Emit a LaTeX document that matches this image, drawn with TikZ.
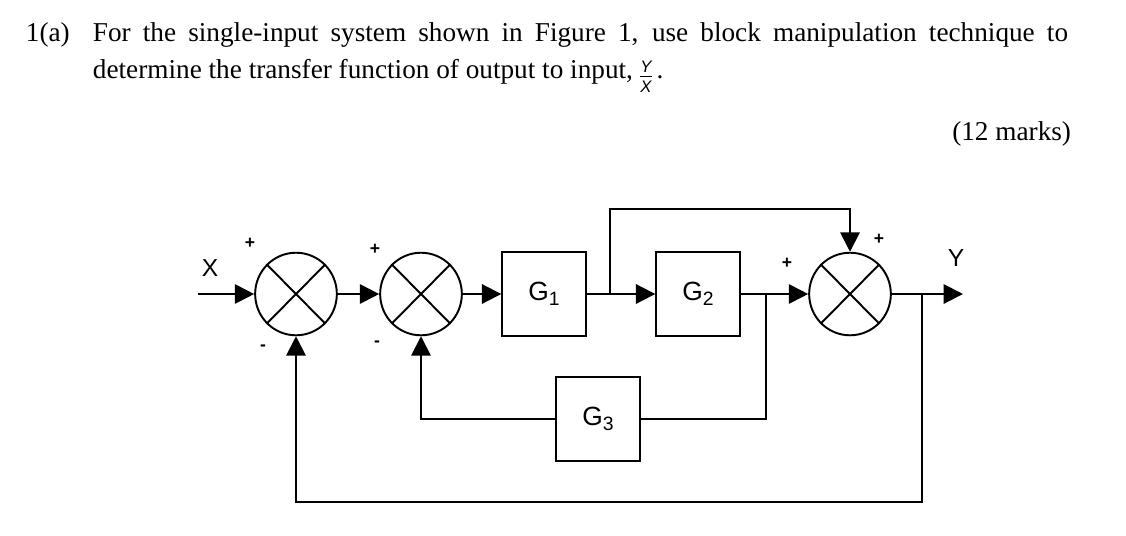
\documentclass[tikz,border=0pt]{standalone}
\usepackage{fontspec}
\setmainfont{Liberation Serif}
\setsansfont{Liberation Sans}
\usetikzlibrary{arrows.meta,shapes.geometric}
\newcommand{\sbx}[1]{\raisebox{-0.35ex}{\fontsize{11}{11}\selectfont #1}}
\begin{document}
\begin{tikzpicture}[x=0.02cm,y=-0.02cm,
  line width=1.1pt,
  sum/.style={ellipse,draw,minimum width=46.5pt,minimum height=47pt,inner sep=0pt},
  blk/.style={draw,minimum width=47.5pt,minimum height=47.5pt,font=\sffamily\fontsize{15}{15}\selectfont},
  lab/.style={font=\sffamily\fontsize{14}{14}\selectfont},
  sgn/.style={font=\sffamily\bfseries\fontsize{10}{10}\selectfont},
  arr/.style={-{Triangle[length=11pt,width=11pt]}},
  txt/.style={font=\fontsize{15.5}{18}\selectfont,inner sep=0pt}]
\useasboundingbox (0,0) rectangle (1126,535);
% text
\node[txt,anchor=base west] (n1) at (25,41) {1(a)};
\node[txt,anchor=base west] (t2) at (92,78) {determine the transfer function of output to input, \raisebox{-0.4ex}{$\vcenter{\hbox{\fontsize{9.5}{9.5}\selectfont\sffamily\itshape\shortstack{Y\\[-1pt]\rule{7pt}{0.5pt}\\[-1pt]X}}}$}\,.};
\node[txt,anchor=base west] (t1) at (92,41) {\makebox[555pt][s]{For the single-input system shown in Figure 1, use block manipulation technique to}};
\node[txt,anchor=base east] (mk) at (1072,140) {(12 marks)};
% blocks
\node[sum] (s1) at (296,294) {};
\node[sum] (s2) at (421,294) {};
\node[sum] (s3) at (850,294) {};
\foreach \s in {s1,s2,s3}{
  \draw (\s.north east) -- (\s.south west) (\s.north west) -- (\s.south east);}
\node[blk] (g1) at (544,294) {G\sbx{1}};
\node[blk] (g2) at (698,294) {G\sbx{2}};
\node[blk] (g3) at (598,419) {G\sbx{3}};
\coordinate (in) at (198,294);
\coordinate (out) at (963,294);
\coordinate (b1) at (610,294);
\coordinate (b2) at (766,294);
\coordinate (b3) at (922,294);
% connectors
\draw[arr] (in) -- (s1);
\draw[arr] (s1) -- (s2);
\draw[arr] (s2) -- (g1);
\draw[arr] (g1) -- (g2);
\draw[arr] (g2) -- (s3);
\draw[arr] (s3) -- (out);
\draw[arr] (b1) |- (850,209) -- (s3.north);
\draw[arr] (b2) |- (g3.east) (g3.west) -| (s2.south);
\draw[arr] (b3) |- (296,502) -- (s1.south);
% labels
\node[lab] (lx) at (210,268) {X};
\node[lab] (ly) at (956,258) {Y};
\node[sgn] (p1) at (250,243) {+};
\node[sgn] (p2) at (375,249) {+};
\node[sgn] (p3) at (787,263) {+};
\node[sgn] (p4) at (879,239) {+};
\node[sgn] (m1) at (263,348) {-};
\node[sgn] (m2) at (377,344) {-};
\end{tikzpicture}
\end{document}
